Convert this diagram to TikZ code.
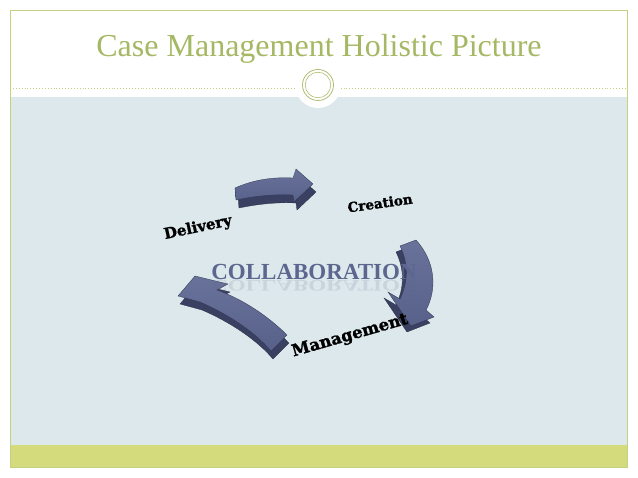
\documentclass[tikz,border=0pt]{standalone}
\usepackage{fontspec}
\setmainfont{Liberation Serif}
\newfontfamily\lblfont{DejaVu Serif}[BoldFeatures={FakeBold=1.5}]
\definecolor{frame}{RGB}{196,209,128}
\definecolor{titlecol}{RGB}{165,184,100}
\definecolor{panel}{RGB}{221,232,236}
\definecolor{bar}{RGB}{211,219,124}
\definecolor{arrowface}{RGB}{92,102,145}
\definecolor{arrowside}{RGB}{58,64,98}
\definecolor{collab}{RGB}{92,102,142}
\begin{document}
\begin{tikzpicture}[x=1pt,y=-1pt,
  face/.style={top color=arrowface!92!white, bottom color=arrowface!95!black, draw=arrowside!80!black, line width=0.3pt},
  side/.style={fill=arrowside, draw=arrowside!70!black, line width=0.3pt},
  lbl/.style={text=black, inner sep=0pt},
  titlestyle/.style={font=\fontsize{32}{32}\selectfont, text=titlecol, inner sep=0pt},
]
\useasboundingbox (0,0) rectangle (638,478);
\fill[white] (0,0) rectangle (638,478);
\fill[panel] (10,97) rectangle (627,445);
\fill[bar] (10,445) rectangle (627,467);
\draw[frame, line width=0.8pt] (10,10) rectangle (627,467);
\draw[frame, dotted, line width=0.9pt] (10,88) -- (627,88);
\fill[white] (318,85) circle (23);
\draw[frame!90!black, line width=0.8pt] (318,85) circle (15.5);
\draw[frame!90!black, line width=0.6pt] (318,85) circle (12.8);
\node[titlestyle] (title) at (319,49) {Case Management Holistic Picture};

% top arrow
\begin{scope}[shift={(3,8)}]
\path[side] (235,188) .. controls (255,179) and (275,177) .. (293,178) -- (296,169) -- (313,184) -- (294,202) -- (293,195) .. controls (275,194) and (255,196) .. (236,200) -- cycle;
\end{scope}
\path[face] (235,188) .. controls (255,179) and (275,177) .. (293,178) -- (296,169) -- (313,184) -- (294,202) -- (293,195) .. controls (275,194) and (255,196) .. (236,200) -- cycle;

% right arrow
\begin{scope}[shift={(-4,6)}]
\path[side] (400,246) -- (416,240) .. controls (436,262) and (437,290) .. (426,310) -- (434,317) -- (411,326) -- (388,292) -- (400,299) .. controls (408,283) and (409,264) .. (400,246) -- cycle;
\end{scope}
\path[face] (400,246) -- (416,240) .. controls (436,262) and (437,290) .. (426,310) -- (434,317) -- (411,326) -- (388,292) -- (400,299) .. controls (408,283) and (409,264) .. (400,246) -- cycle;

% bottom-left arrow
\begin{scope}[shift={(2,8)}]
\path[side] (195,276) -- (228,284) -- (217,290) .. controls (245,300) and (270,318) .. (287,335) -- (271,351) .. controls (255,332) and (228,314) .. (200,302) -- (178,296) -- cycle;
\end{scope}
\path[face] (195,276) -- (228,284) -- (217,290) .. controls (245,300) and (270,318) .. (287,335) -- (271,351) .. controls (255,332) and (228,314) .. (200,302) -- (178,296) -- cycle;

% collaboration text with reflection
\node[font=\bfseries\fontsize{23}{23}\selectfont, text=collab, inner sep=0pt, opacity=0.16, yscale=-0.7] (collabrefl) at (314,286) {COLLABORATION};
\node[font=\bfseries\fontsize{23}{23}\selectfont, text=collab, inner sep=0pt] (collab) at (314,272) {COLLABORATION};

% labels
\node[lbl, font=\lblfont\bfseries\fontsize{15}{15}\selectfont, rotate=12] (delivery) at (198,228) {Delivery};
\node[lbl, font=\lblfont\bfseries\fontsize{13.5}{13.5}\selectfont, rotate=8] (creation) at (380,203) {Creation};
\node[lbl, font=\lblfont\bfseries\fontsize{16.3}{16.3}\selectfont, rotate=16] (management) at (350,336) {Management};
\end{tikzpicture}
\end{document}
